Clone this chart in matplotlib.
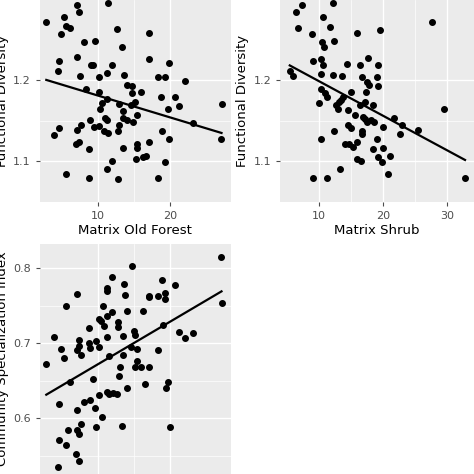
import matplotlib
matplotlib.use("Agg")
import matplotlib.pyplot as plt
import numpy as np

# Panel A: functional diversity vs matrix old forest
old_forest = [2.8, 7.1, 7.4, 5.3, 11.4, 5.6, 6.1, 4.8, 12.6, 17.1, 8.1, 9.6, 13.3, 7.1, 4.6, 17.1,
              4.4, 9.0, 9.3, 12.0, 19.9, 7.5, 10.2, 11.2, 13.6, 18.4, 19.3, 22.1, 8.4, 14.0, 14.7,
              10.2, 14.8, 16.0, 18.8, 20.7, 21.3, 27.2, 11.3, 10.6, 12.9, 14.6, 15.1, 10.3, 13.5,
              19.7, 11.0, 11.3, 13.5, 14.0, 15.4, 8.9, 14.9, 7.6, 9.5, 10.1, 12.9, 4.6, 23.3, 3.9,
              7.1, 10.8, 11.4, 12.8, 18.9, 19.9, 27.1, 7.3, 6.9, 17.1, 15.5, 15.5, 13.5, 8.7, 16.3,
              16.7, 15.3, 12.0, 19.4, 11.2, 5.6, 8.7, 12.8, 18.3]
fd_forest = [1.272, 1.293, 1.284, 1.278, 1.295, 1.267, 1.265, 1.257, 1.263, 1.258, 1.247, 1.248,
             1.241, 1.229, 1.224, 1.226, 1.212, 1.219, 1.219, 1.219, 1.221, 1.205, 1.204, 1.209,
             1.206, 1.204, 1.204, 1.199, 1.189, 1.194, 1.193, 1.186, 1.184, 1.185, 1.180, 1.180,
             1.168, 1.171, 1.177, 1.172, 1.171, 1.170, 1.173, 1.165, 1.162, 1.164, 1.154, 1.151,
             1.153, 1.151, 1.157, 1.151, 1.148, 1.145, 1.143, 1.144, 1.145, 1.141, 1.147, 1.133,
             1.139, 1.138, 1.135, 1.138, 1.138, 1.128, 1.128, 1.124, 1.122, 1.124, 1.122, 1.117,
             1.117, 1.115, 1.106, 1.107, 1.103, 1.100, 1.099, 1.090, 1.084, 1.079, 1.078, 1.079]

# Panel B: functional diversity vs matrix shrub
shrub = [7.4, 12.3, 6.5, 10.6, 6.8, 11.7, 27.6, 9.0, 16.0, 19.6, 10.5, 12.4, 10.8, 9.1, 10.3, 17.7,
         10.6, 14.4, 16.5, 19.2, 5.5, 6.0, 10.4, 12.3, 13.6, 16.8, 17.6, 17.9, 19.1, 19.3, 10.4,
         15.1, 17.3, 11.0, 11.3, 13.8, 13.5, 13.1, 10.0, 17.2, 16.4, 18.5, 12.7, 13.0, 14.5, 29.5,
         15.7, 16.9, 17.2, 18.1, 17.6, 18.6, 21.7, 23.0, 14.6, 15.1, 20.0, 25.4, 12.4, 16.7, 16.7,
         22.7, 10.3, 19.1, 14.1, 14.7, 15.3, 16.0, 18.5, 20.0, 19.3, 21.1, 15.9, 16.6, 19.9, 13.4,
         20.8, 9.1, 11.3, 32.8]
fd_shrub = [1.293, 1.295, 1.284, 1.278, 1.265, 1.266, 1.272, 1.257, 1.258, 1.262, 1.247, 1.248,
            1.241, 1.224, 1.226, 1.228, 1.219, 1.220, 1.219, 1.219, 1.212, 1.205, 1.208, 1.206,
            1.205, 1.204, 1.198, 1.194, 1.204, 1.193, 1.189, 1.186, 1.186, 1.184, 1.180, 1.179,
            1.176, 1.173, 1.172, 1.173, 1.170, 1.170, 1.169, 1.165, 1.163, 1.165, 1.157, 1.155,
            1.152, 1.151, 1.148, 1.148, 1.153, 1.145, 1.145, 1.141, 1.142, 1.139, 1.138, 1.137,
            1.134, 1.134, 1.128, 1.128, 1.122, 1.122, 1.118, 1.124, 1.115, 1.117, 1.106, 1.107,
            1.103, 1.100, 1.099, 1.090, 1.084, 1.079, 1.079, 1.079]

# Panel C: community specialization index vs matrix old forest
old_forest_c = [2.8, 3.9, 4.8, 5.3, 5.6, 6.1, 4.6, 7.1, 7.3, 7.4, 7.1, 7.6, 8.8, 8.7, 8.9, 9.7, 10.1,
                10.4, 10.7, 10.8, 10.2, 11.2, 11.2, 12.0, 12.0, 11.3, 11.3, 11.5, 12.8, 12.8, 13.6,
                13.7, 14.0, 13.5, 13.5, 14.8, 15.0, 15.2, 14.6, 15.5, 15.4, 15.2, 16.0, 16.3, 13.0,
                12.9, 9.3, 10.2, 11.2, 11.5, 12.1, 12.6, 14.1, 16.6, 17.1, 17.1, 17.1, 18.3, 18.4,
                18.9, 19.3, 19.4, 19.0, 20.7, 21.3, 22.1, 23.3, 27.1, 27.2, 19.5, 19.8, 20.0, 13.3,
                9.7, 10.6, 8.9, 8.1, 9.6, 7.1, 7.6, 7.1, 7.3, 5.8, 4.6, 5.6, 6.9, 7.4, 4.4]
csi = [0.673, 0.708, 0.692, 0.681, 0.750, 0.649, 0.619, 0.765, 0.705, 0.696, 0.691, 0.684, 0.721,
       0.700, 0.694, 0.703, 0.732, 0.730, 0.750, 0.723, 0.695, 0.774, 0.770, 0.788, 0.741, 0.736,
       0.708, 0.683, 0.728, 0.722, 0.779, 0.764, 0.743, 0.710, 0.685, 0.803, 0.716, 0.711, 0.695,
       0.692, 0.677, 0.668, 0.669, 0.743, 0.669, 0.656, 0.653, 0.631, 0.635, 0.632, 0.634, 0.633,
       0.641, 0.646, 0.669, 0.761, 0.763, 0.691, 0.763, 0.784, 0.759, 0.767, 0.724, 0.777, 0.715,
       0.707, 0.714, 0.815, 0.753, 0.641, 0.649, 0.588, 0.590, 0.589, 0.602, 0.624, 0.622, 0.614,
       0.611, 0.592, 0.585, 0.579, 0.585, 0.571, 0.565, 0.552, 0.543, 0.535]

BG = "#EBEBEB"
TICK = "#4D4D4D"


def panel(ax, x, y, xlim, ylim, xticks, yticks, ytlabels, xlabel, ylabel):
    ax.set_facecolor(BG)
    for s in ax.spines.values():
        s.set_visible(False)
    ax.scatter(x, y, s=16, color="black", zorder=3)
    b, a = np.polyfit(x, y, 1)
    xs = np.array([min(x), max(x)])
    ax.plot(xs, a + b * xs, color="black", lw=1.6, zorder=4)
    ax.set_xlim(*xlim)
    ax.set_ylim(*ylim)
    ax.set_xticks(xticks)
    ax.set_yticks(yticks)
    ax.set_yticklabels(ytlabels)
    xt = np.array(xticks)
    ax.set_xticks((xt[:-1] + xt[1:]) / 2, minor=True)
    yt = np.array(yticks)
    ax.set_yticks(list((yt[:-1] + yt[1:]) / 2) + [yt[0] - (yt[1] - yt[0]) / 2], minor=True)
    ax.grid(True, which="major", color="white", lw=1.0, zorder=0)
    ax.grid(True, which="minor", color="white", lw=0.5, zorder=0)
    ax.tick_params(which="major", colors=TICK, labelsize=8, length=3, labelcolor=TICK)
    ax.tick_params(which="minor", length=0)
    ax.set_axisbelow(True)
    if xlabel:
        ax.set_xlabel(xlabel, fontsize=9.5, labelpad=2)
    ax.set_ylabel(ylabel, fontsize=9.5, labelpad=3)


fig = plt.figure(figsize=(4.74, 4.74), dpi=100)
ax1 = fig.add_axes([0.084, 0.574, 0.403, 0.426])
ax2 = fig.add_axes([0.591, 0.574, 0.409, 0.426])
ax3 = fig.add_axes([0.084, 0.0, 0.403, 0.485])

panel(ax1, old_forest, fd_forest, (1.9, 28.5), (1.064, 1.299), [10, 20], [1.1, 1.2],
      ["1.1", "1.2"], "Matrix Old Forest", "Functional Diversity")
panel(ax2, shrub, fd_shrub, (4.0, 34.2), (1.064, 1.299), [10, 20, 30], [1.1, 1.2],
      ["1.1", "1.2"], "Matrix Shrub", "Functional Diversity")
panel(ax3, old_forest_c, csi, (1.9, 28.5), (0.526, 0.832), [10, 20], [0.6, 0.7, 0.8],
      ["0.6", "0.7", "0.8"], None, "Community Specialization Index")
ax3.tick_params(axis="x", labelbottom=False, length=0)

fig.savefig("out.png", dpi=100)
